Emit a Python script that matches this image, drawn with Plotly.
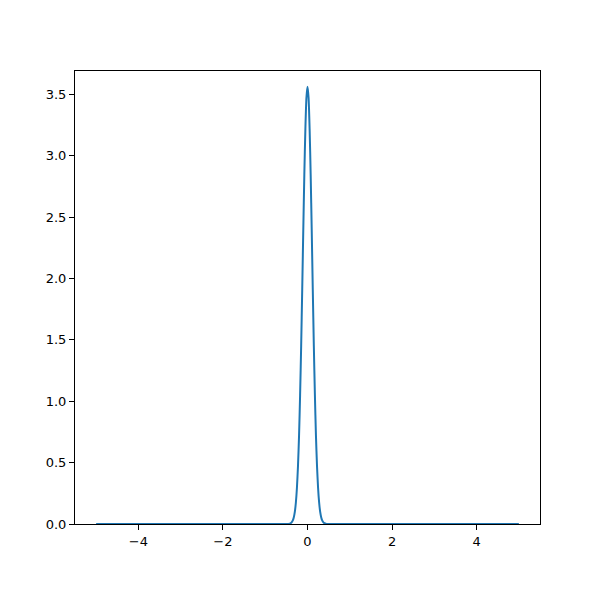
import plotly.graph_objects as go

# curve samples (peak near x=0)
x_vals = [-5.0, -1.0, -0.5, -0.45, -0.4, -0.375, -0.35, -0.325, -0.3, -0.275, -0.25, -0.225,
          -0.2, -0.175, -0.15, -0.125, -0.1, -0.075, -0.05, -0.025, 0.0,
          0.025, 0.05, 0.075, 0.1, 0.125, 0.15, 0.175, 0.2, 0.225, 0.25, 0.275,
          0.3, 0.325, 0.35, 0.375, 0.4, 0.45, 0.5, 1.0, 5.0]
y_vals = [0.0, 0.0, 0.0, 0.001, 0.006, 0.013, 0.027, 0.053, 0.099, 0.175, 0.295, 0.473,
          0.72, 1.051, 1.45, 1.911, 2.39, 2.847, 3.22, 3.474, 3.562,
          3.474, 3.22, 2.847, 2.39, 1.911, 1.45, 1.051, 0.72, 0.473, 0.295, 0.175,
          0.099, 0.053, 0.027, 0.013, 0.006, 0.001, 0.0, 0.0, 0.0]

x_ticks = [-4, -2, 0, 2, 4]
y_ticks = [0.0, 0.5, 1.0, 1.5, 2.0, 2.5, 3.0, 3.5]

fig = go.Figure()
fig.add_trace(go.Scatter(x=x_vals, y=y_vals, mode="lines",
                         line=dict(color="#1f77b4", width=2, shape="spline", smoothing=0.6),
                         showlegend=False))

axis_style = dict(showgrid=False, zeroline=False, showline=True, linecolor="black",
                  linewidth=1, mirror=True, ticks="outside", ticklen=5, tickwidth=1,
                  tickcolor="black", tickfont=dict(family="DejaVu Sans", size=13, color="black"))

# the page body adds an 8px offset, so margins are shifted to compensate
fig.update_layout(
    width=600, height=589,
    margin=dict(l=67, r=68, t=63, b=73),
    paper_bgcolor="white", plot_bgcolor="white",
    xaxis=dict(range=[-5.5, 5.5], tickvals=x_ticks, **axis_style),
    yaxis=dict(range=[0, 3.69], tickvals=y_ticks, tickformat=".1f", **axis_style),
)

fig.write_html("out.html")
